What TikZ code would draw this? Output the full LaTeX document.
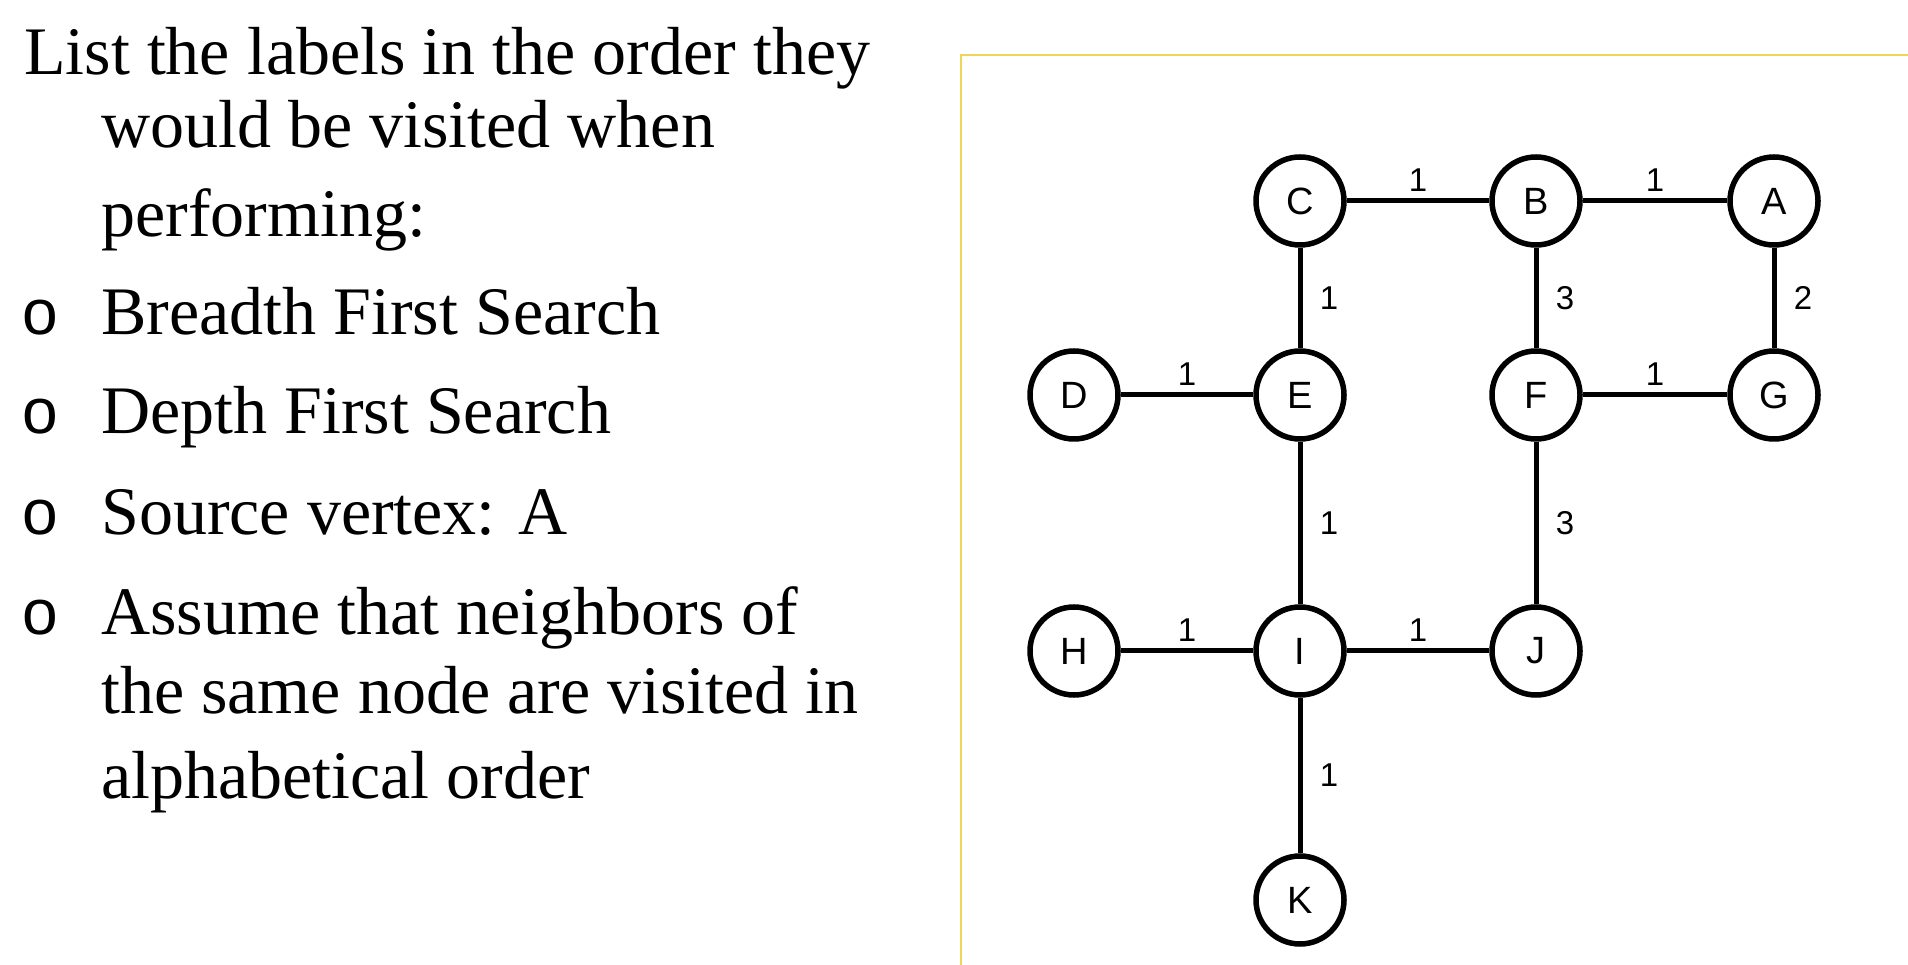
\documentclass[tikz,border=0pt]{standalone}
\usepackage{fontspec}
\setmainfont{Liberation Serif}
\newfontfamily\gsans{Liberation Sans}
\definecolor{panelyel}{RGB}{238,214,90}
\begin{document}
\begin{tikzpicture}[x=1pt,y=1pt,
  vtx/.style={circle,draw,line width=5.5pt,minimum size=88pt,inner sep=0pt,font=\gsans\fontsize{38}{38}\selectfont},
  edge/.style={line width=5pt},
  wt/.style={font=\gsans\fontsize{33}{33}\selectfont},
  txt/.style={anchor=base west,inner sep=0pt,font=\fontsize{68}{68}\selectfont},
  bul/.style={anchor=base west,inner sep=0pt,font=\gsans\fontsize{64}{64}\selectfont}]
\useasboundingbox (0,0) rectangle (1908,964);
\fill[white] (0,0) rectangle (1908,964);
\draw[panelyel,line width=2pt] (961,-10) -- (961,909) -- (1920,909);
\node[txt] (t1) at (24,889) {List the labels in the order they};
\node[txt] (t2) at (101,816) {would be visited when};
\node[txt] (t3) at (101,727) {performing:};
\node[bul] (b1) at (22,629) {o};
\node[txt] (t4) at (101,629) {Breadth First Search};
\node[bul] (b2) at (22,530) {o};
\node[txt] (t5) at (101,530) {Depth First Search};
\node[bul] (b3) at (22,429) {o};
\node[txt] (t6) at (101,429) {Source vertex: A};
\node[bul] (b4) at (22,329) {o};
\node[txt] (t7) at (101,329) {Assume that neighbors of};
\node[txt] (t8) at (101,250) {the same node are visited in};
\node[txt] (t9) at (101,165) {alphabetical order};
\node[vtx] (C) at (1300,763) {C};
\node[vtx] (B) at (1536,763) {B};
\node[vtx] (A) at (1774,763) {A};
\node[vtx] (D) at (1074,569) {D};
\node[vtx] (E) at (1300,569) {E};
\node[vtx] (F) at (1536,569) {F};
\node[vtx] (G) at (1774,569) {G};
\node[vtx] (H) at (1074,313) {H};
\node[vtx] (I) at (1300,313) {I};
\node[vtx] (J) at (1536,313) {J};
\node[vtx] (K) at (1300,64) {K};
\draw[edge] (C) -- node[wt,above=4pt] {1} (B);
\draw[edge] (B) -- node[wt,above=4pt] {1} (A);
\draw[edge] (C) -- node[wt,right=14pt] {1} (E);
\draw[edge] (B) -- node[wt,right=14pt] {3} (F);
\draw[edge] (A) -- node[wt,right=14pt] {2} (G);
\draw[edge] (D) -- node[wt,above=4pt] {1} (E);
\draw[edge] (F) -- node[wt,above=4pt] {1} (G);
\draw[edge] (E) -- node[wt,right=14pt] {1} (I);
\draw[edge] (F) -- node[wt,right=14pt] {3} (J);
\draw[edge] (H) -- node[wt,above=4pt] {1} (I);
\draw[edge] (I) -- node[wt,above=4pt] {1} (J);
\draw[edge] (I) -- node[wt,right=14pt] {1} (K);
\end{tikzpicture}
\end{document}
